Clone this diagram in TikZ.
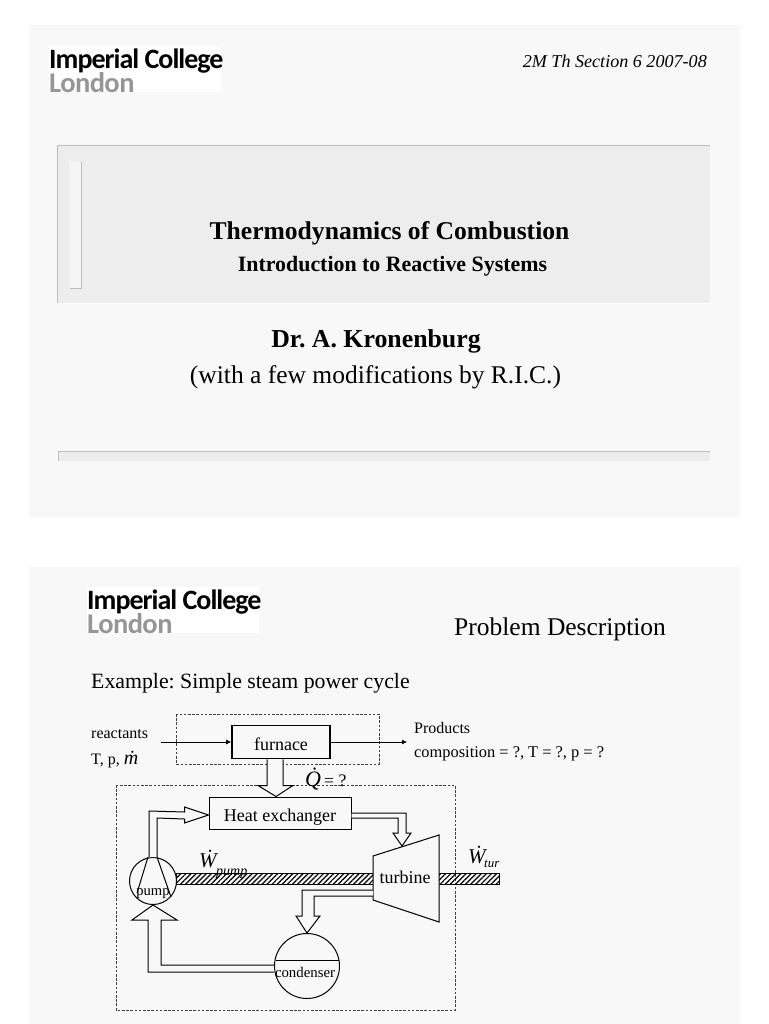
\documentclass[tikz,border=0pt]{standalone}
\usepackage{fontspec}
\setmainfont{Liberation Serif}
\newfontfamily\logofont[LetterSpace=-2.0]{Carlito}
\newfontfamily\logofontB[LetterSpace=-3.5]{Carlito}
\usetikzlibrary{calc,arrows.meta,patterns.meta}
\definecolor{panel}{HTML}{F8F8F8}
\definecolor{band}{HTML}{EDEDED}
\definecolor{bandedge}{HTML}{BDBDBD}
\definecolor{logogrey}{HTML}{969696}
\tikzset{
  lbl/.style={inner sep=0pt,anchor=base west,text=black},
  lblc/.style={inner sep=0pt,anchor=base,text=black},
  procbox/.style={draw=black,fill=panel,line width=1pt,inner sep=0pt,text=black},
  roundunit/.style={draw=black,fill=panel,circle,line width=1pt,inner sep=0pt},
  boundary/.style={draw=black!75,dash pattern=on 2.6pt off 1.6pt,line width=.6pt},
  flow/.style={draw=black,line width=.8pt,-{Latex[length=5pt,width=5pt]}},
  hollow/.style={draw=black,line width=1pt,line join=miter,fill=panel},
  logoA/.style={inner sep=0pt,anchor=base west,font=\logofontB\bfseries\fontsize{28}{30}\selectfont,text=black},
  logoB/.style={inner sep=0pt,anchor=base west,font=\logofont\bfseries\fontsize{28.5}{30}\selectfont,text=logogrey},
  shaft/.style={draw=black,line width=.8pt,pattern={Lines[angle=45,distance=3.6pt,line width=1.2pt]}}
}
\begin{document}
\frenchspacing
\begin{tikzpicture}[x=1pt,y=-1pt]
\useasboundingbox (0,0) rectangle (768,1024);
\fill[white] (0,0) rectangle (768,1024);
% panels
\fill[panel] (29,25) rectangle (740,517);
\fill[panel] (29,567) rectangle (740,1024);
% logos
\fill[white] (49,46) rectangle (221,92);
\node[logoA] (logo1a) at (49,68.5) {Imperial College};
\node[logoB] (logo1b) at (49,92.5) {London};
\fill[white] (87,587) rectangle (259,633);
\node[logoA] (logo2a) at (87,609.5) {Imperial College};
\node[logoB] (logo2b) at (87,633.5) {London};
% title bands
\fill[band] (57,145) rectangle (710,303);
\draw[bandedge,line width=.8pt] (57,303) -- (57,145) -- (710,145);
\draw[white,line width=1pt] (57,303.5) -- (710,303.5);
\fill[black!4] (69,162) rectangle (81,288);
\draw[bandedge,line width=.8pt] (81,162) -- (81,288) -- (70,288);
\fill[band] (58,451) rectangle (710,461);
\draw[bandedge,line width=.8pt] (58,461) -- (58,451) -- (710,451);
% slide 1 text
\node[lbl,anchor=base east,font=\itshape\fontsize{18.1}{20}\selectfont] (section) at (707,68) {2M Th Section 6 2007-08};
\node[lblc,font=\bfseries\fontsize{25.6}{28}\selectfont] (title) at (389.5,240) {Thermodynamics of Combustion};
\node[lblc,font=\bfseries\fontsize{21.9}{24}\selectfont] (subtitle) at (392.5,271.5) {Introduction to Reactive Systems};
\node[lblc,font=\bfseries\fontsize{25.8}{30}\selectfont] (author) at (376,347) {Dr. A. Kronenburg};
\node[lblc,font=\fontsize{25.5}{30}\selectfont] (mods) at (375.5,383.5) {(with a few modifications by R.I.C.)};
% slide 2 text
\node[lbl,font=\fontsize{25.5}{28}\selectfont] (heading) at (454,635) {Problem Description};
\node[lbl,font=\fontsize{21.8}{24}\selectfont] (example) at (91,688) {Example: Simple steam power cycle};
% boundaries
\draw[boundary] (176,714) rectangle (379,764);
\draw[boundary] (116,785) rectangle (455,1010);
% shaft
\draw[shaft] (176,873) rectangle (499,884);
% nodes
\node[procbox,line width=1.6pt,minimum width=98pt,minimum height=33pt] (furnace) at (281,742) {};
\node[lblc,font=\fontsize{18}{20}\selectfont] (furnacelbl) at (281,750) {furnace};
\node[procbox,minimum width=142pt,minimum height=32pt] (hx) at (280,813) {};
\node[lblc,font=\fontsize{18}{20}\selectfont] (hxlbl) at (280,821) {Heat exchanger};
\node[roundunit,minimum size=47pt] (pump) at (153,881) {};
\node[roundunit,minimum size=65pt] (cond) at (307,966) {};
\draw[hollow,fill=none] (148,857) coordinate (pa) -- (137,893);
\draw[hollow,fill=none] (157,857) coordinate (pb) -- (171,897);
\node[lblc,font=\fontsize{14.6}{16}\selectfont] (pumplbl) at (153,895) {pump};
\draw[black,line width=1pt] (cond.center) ++(-31.5,-6) -- ++(63,0);
\node[lblc,font=\fontsize{14.8}{16}\selectfont] (condlbl) at (305,977) {condenser};
\draw[hollow] (373,856) coordinate (ta) -- (439,835) -- (439,922) -- (373,900) -- cycle;
\node (turbine) at (406,878) [inner sep=0pt] {};
\node[lblc,font=\fontsize{18}{20}\selectfont] (turbinelbl) at (405,883) {turbine};
% labels
\node[lbl,font=\fontsize{16}{18}\selectfont] (reactants) at (91,738) {reactants};
\node[lbl,font=\fontsize{16}{18}\selectfont] (tpm) at (91,764) {T, p, \fontsize{20}{22}\selectfont\textit{m\char"0307}};
\node[lbl,font=\fontsize{16}{18}\selectfont] (products) at (414,733) {Products};
\node[lbl,font=\fontsize{16.4}{18}\selectfont] (comp) at (414,757) {composition = ?, T = ?, p = ?};
\node[lbl,font=\fontsize{22}{24}\selectfont] (qdot) at (305,786) {\textit{Q\char"0307}};
\node[lbl,font=\fontsize{17.6}{20}\selectfont] (qeq) at (324,786) {= ?};
\node[lbl,font=\fontsize{21}{22}\selectfont] (wpump) at (199,867) {\textit{W\char"0307}};
\node[lbl,font=\itshape\fontsize{14}{16}\selectfont] (wpsub) at (216,875) {pump};
\node[lbl,font=\fontsize{21}{22}\selectfont] (wtur) at (468,863) {\textit{W\char"0307}};
\node[lbl,font=\itshape\fontsize{13}{15}\selectfont] (wtsub) at (484,867) {tur};
% simple connectors
\coordinate (reactin) at (161,742);
\coordinate (prodout) at (407,742);
\draw[flow] (reactin) -- (furnace.west);
\draw[flow] (furnace.east) -- (prodout);
% hollow connectors
\draw[hollow] ($(furnace.south)+(-14,0)$) -- ($(hx.north)+(-13,-11)$) -- ($(hx.north)+(-22,-11)$) -- ($(hx.north)+(-4,0)$) -- ($(hx.north)+(13,-11)$) -- ($(hx.north)+(3,-11)$) -- ($(furnace.south)+(2,0)$);
\draw[hollow] ($(pump.north)+(-4,0)$) -- ($(pump.north)+(-4,-46)$) -- ($(hx.west)+(-24,-1)$) -- ($(hx.west)+(-24,-6)$) -- ($(hx.west)+(0,2)$) -- ($(hx.west)+(-24,10)$) -- ($(hx.west)+(-24,6)$) -- ($(pump.north)+(4,-39)$) -- ($(pump.north)+(4,0)$);
\draw[hollow] ($(hx.east)+(0,0)$) -- (406,813) -- (406,833) -- (411,833) -- (402,846) -- (393,833) -- (398,833) -- (398,818) -- ($(hx.east)+(0,5)$);
\draw[hollow] (373,890) -- (302,890) -- (302,916) -- (296,916) -- (cond.north) -- (320,916) -- (314,916) -- (314,896) -- (373,896);
\draw[hollow] ($(cond.west)+(0,-1)$) -- (161,965) -- (161,920) -- (177,920) -- (pump.south) -- (132,920) -- (148,920) -- (148,972) -- ($(cond.west)+(0,6)$);
\end{tikzpicture}
\end{document}
